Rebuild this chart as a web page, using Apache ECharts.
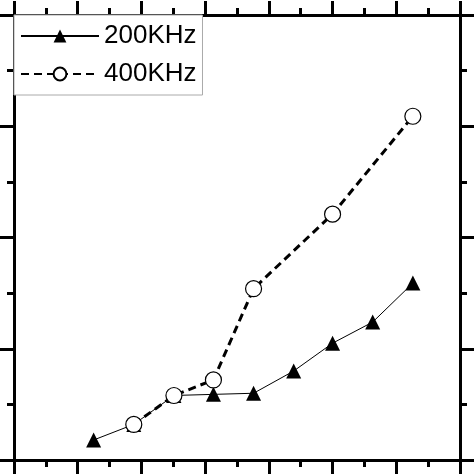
<!DOCTYPE html><html><head><meta charset="utf-8"><script src="https://cdn.jsdelivr.net/npm/echarts@6/dist/echarts.min.js"></script></head><body style="margin:0"><div id="c" style="width:474px;height:474px"></div><script>
const xs = [1.25,1.88,2.51,3.13,3.76,4.39,5.0,5.63,6.26];
const y200 = [0.18,0.32,0.58,0.59,0.60,0.80,1.05,1.24,1.59];
const y400 = [null,0.32,0.58,0.72,1.54,null,2.21,null,3.09];
const names = ['200KHz','400KHz'];
const pair = (a)=>xs.map((x,i)=>[x,a[i]]).filter(p=>p[1]!==null);
const ax = (pos, isX, max) => ({type:'value', position:pos, min:0, max:max, interval:1, gridIndex:0,
  axisLine:{show:true,onZero:false,lineStyle:{color:'#000',width:3}},
  axisTick:{show:true,inside:false,length:14,lineStyle:{color:'#000',width:3}},
  minorTick:{show:true,splitNumber:2,length:7,lineStyle:{color:'#000',width:3}},
  axisLabel:{show:false}, splitLine:{show:false}});
const c = echarts.init(document.getElementById('c'));
c.setOption({animation:false,
 grid:{left:14,right:14,top:15,bottom:14},
 xAxis:[ax('bottom',true,7),ax('top',true,7)],
 yAxis:[ax('left',false,4),ax('right',false,4)],
 legend:{left:14,top:15,orient:'vertical',itemWidth:78,itemHeight:16,itemGap:12,padding:[8,6,8,6],
   borderColor:'#aaa',borderWidth:1,backgroundColor:'#fff',
   textStyle:{fontFamily:'Liberation Sans',fontSize:26,color:'#000'}, data:names},
 series:[
  {name:names[0],type:'line',data:pair(y200),symbol:'triangle',symbolSize:15,
   lineStyle:{color:'#000',width:1},itemStyle:{color:'#000'}},
  {name:names[1],type:'line',data:pair(y400),symbol:'circle',symbolSize:16,
   lineStyle:{color:'#000',width:3,type:[8,5]},itemStyle:{color:'#fff',borderColor:'#000',borderWidth:1.2}}
 ]});
</script></body></html>
